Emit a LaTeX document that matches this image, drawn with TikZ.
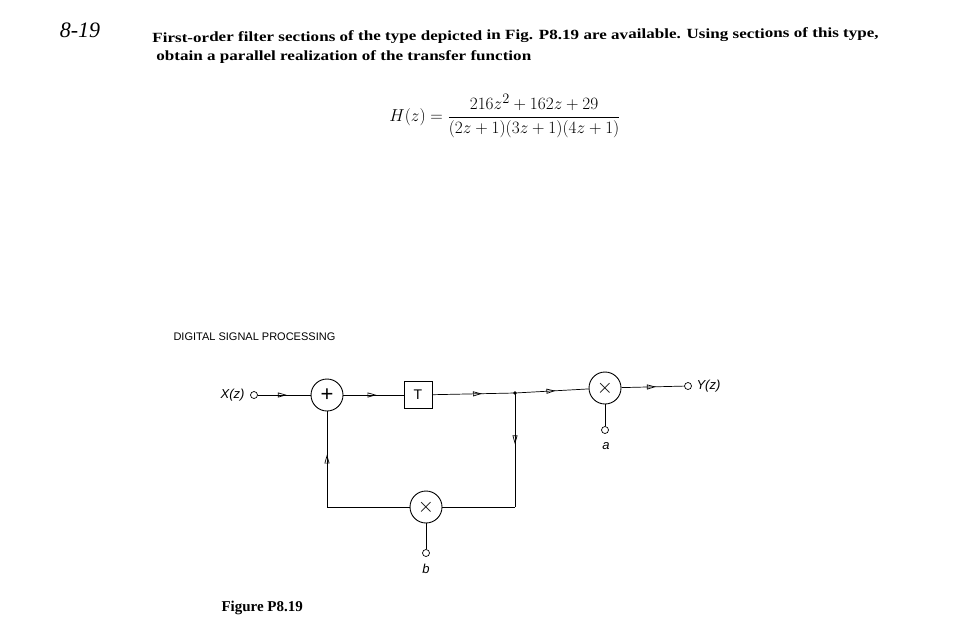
\documentclass[tikz,border=0pt]{standalone}
\usepackage{fontspec}
\setmainfont{Liberation Serif}
\setsansfont{Liberation Sans}
\usetikzlibrary{arrows.meta,decorations.markings}
\begin{document}
\begin{tikzpicture}[x=1pt,y=-1pt,
  sig/.style={line width=0.7pt},
  midarr/.style={sig,postaction={decorate},decoration={markings,mark=at position #1 with {\arrow{Triangle[open,length=9pt,width=5pt]}}}},
  opnode/.style={circle,draw,line width=0.9pt,minimum size=32pt,inner sep=0pt,font=\sffamily\fontsize{22}{22}\selectfont},
  term/.style={circle,draw,line width=0.7pt,minimum size=7pt,inner sep=0pt},
  delaybox/.style={draw,line width=0.9pt,minimum width=28pt,minimum height=27pt,font=\sffamily\fontsize{14}{14}\selectfont},
  lab/.style={font=\sffamily\itshape\fontsize{13}{13}\selectfont}]
\useasboundingbox (0,0) rectangle (979,641);
\node[font=\fontsize{22}{22}\selectfont\itshape] (num) at (80,30) {8-19};
\node[anchor=west,font=\bfseries\fontsize{14}{16}\selectfont,xscale=1.22,rotate=0.5,transform shape] (p1) at (148,39) {First-order filter sections of the type depicted in Fig. P8.19 are available. Using sections of this type,};
\node[anchor=west,font=\bfseries\fontsize{14}{16}\selectfont,xscale=1.22,transform shape] (p2) at (152,57) {obtain a parallel realization of the transfer function};
\node[font=\fontsize{19}{22}\selectfont] (eq) at (505,116) {$\displaystyle H(z)=\frac{216z^2+162z+29}{(2z+1)(3z+1)(4z+1)}$};
\node[anchor=west,font=\sffamily\fontsize{11}{12}\selectfont] (hdr) at (170,337) {DIGITAL SIGNAL PROCESSING};
\node[anchor=west,font=\bfseries\fontsize{15}{16}\selectfont] (fig) at (218,608) {Figure P8.19};

\node[term] (xin) at (254,395) {};
\node[lab,anchor=east] (xl) at (248,395) {X(z)};
\node[opnode] (add) at (327,395) {+};
\node[delaybox] (T) at (418,395) {T};
\coordinate (j) at (515,393);
\fill (j) circle (1.8pt);
\node[opnode] (ma) at (605,388) {$\times$};
\node[term] (yout) at (688,386) {};
\node[lab,anchor=west] (yl) at (693,386) {Y(z)};
\node[term] (ta) at (605,430) {};
\node[lab] (al) at (606,446) {a};
\node[opnode] (mb) at (426,507) {$\times$};
\node[term] (tb) at (426,553) {};
\node[lab] (bl) at (426,569) {b};
\coordinate (bl1) at (515,507);
\coordinate (bl2) at (327,507);

\draw[midarr=0.55] (xin) -- (add);
\draw[midarr=0.55] (add) -- (T);
\draw[midarr=0.6] (T) -- (j);
\draw[midarr=0.55] (j) -- (ma);
\draw[midarr=0.55] (ma) -- (yout);
\draw[sig] (ma) -- (ta);
\draw[sig] (mb) -- (tb);
\draw[midarr=0.45] (j) -- (bl1);
\draw[sig] (bl1) -- (mb);
\draw[sig] (mb) -- (bl2);
\draw[midarr=0.55] (bl2) -- (add);
\end{tikzpicture}
\end{document}
